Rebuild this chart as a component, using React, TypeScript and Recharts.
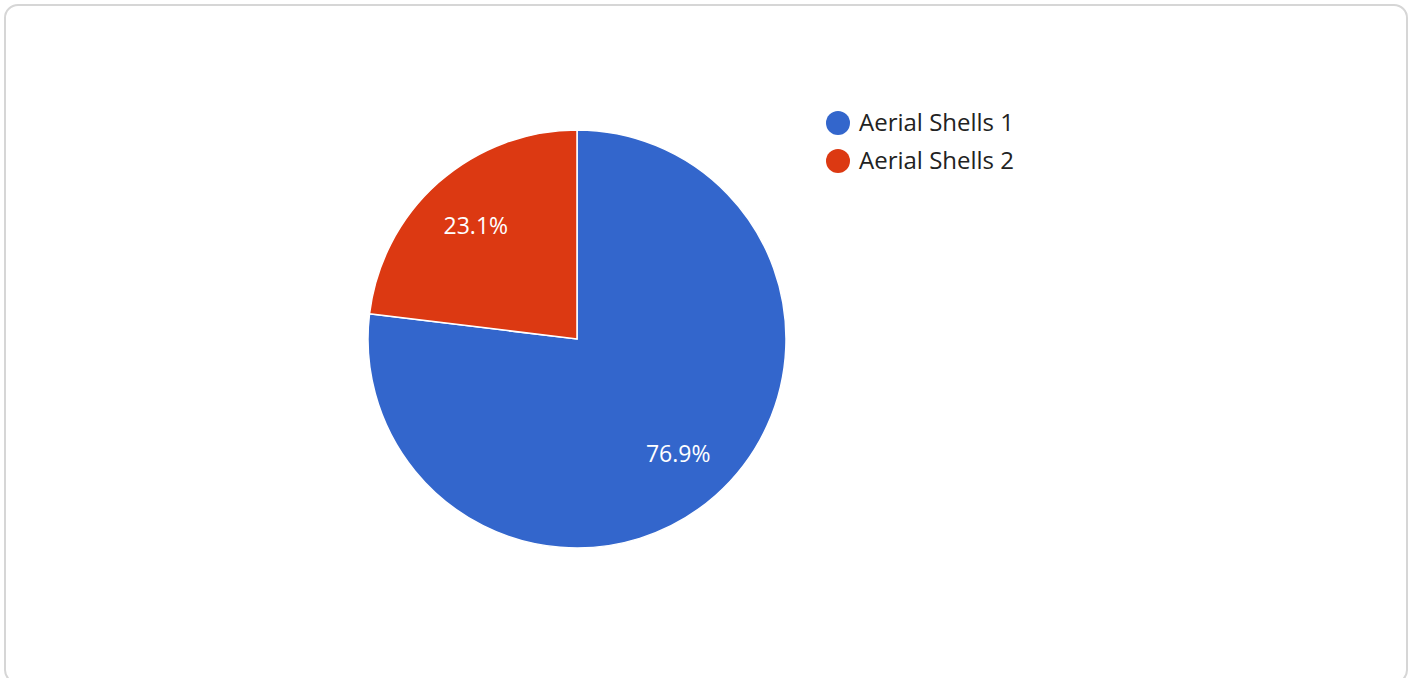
import { PieChart, Pie, Cell, Legend } from "recharts";

const categories = ["Aerial Shells 1", "Aerial Shells 2"];
const values = [10, 3];
const colors = ["#3366cc", "#dc3912"];

const data = categories.map((name, i) => ({ name, value: values[i] }));

const RADIAN = Math.PI / 180;

const renderLabel = (props: any) => {
  const { cx, cy, midAngle, outerRadius, percent } = props;
  const r = outerRadius * 0.73;
  const x = cx + r * Math.cos(-midAngle * RADIAN);
  const y = cy + r * Math.sin(-midAngle * RADIAN);
  return (
    <text
      x={x}
      y={y}
      fill="#ffffff"
      textAnchor="middle"
      dominantBaseline="central"
      fontSize={23}
      fontFamily="'Open Sans', sans-serif"
    >
      {`${(percent * 100).toFixed(1)}%`}
    </text>
  );
};

const renderLegend = (props: any) => {
  const { payload } = props;
  return (
    <div style={{ fontFamily: "'Open Sans', sans-serif" }}>
      {payload.map((entry: any) => (
        <div
          key={entry.value}
          style={{ display: "flex", alignItems: "center", height: 38 }}
        >
          <svg width={26} height={26} style={{ marginRight: 8 }}>
            <circle cx={13} cy={13} r={12} fill={entry.color} />
          </svg>
          <span style={{ fontSize: 24, color: "#222222", marginTop: -3 }}>{entry.value}</span>
        </div>
      ))}
    </div>
  );
};

export default function App() {
  return (
    <div style={{ position: "absolute", left: 0, top: 0, width: 1412, height: 678, background: "#fff", overflow: "hidden" }}>
      <div style={{ position: "absolute", left: 0, top: 0 }}>
        <PieChart width={1412} height={678} margin={{ top: 0, right: 0, bottom: 0, left: 0 }}>
          <Pie
            data={data}
            dataKey="value"
            nameKey="name"
            cx={577}
            cy={339}
            outerRadius={209}
            startAngle={90}
            endAngle={-270}
            stroke="#ffffff"
            strokeWidth={1.5}
            label={renderLabel}
            labelLine={false}
            isAnimationActive={false}
          >
            {data.map((d, i) => (
              <Cell key={d.name} fill={colors[i]} />
            ))}
          </Pie>
          <Legend
            layout="vertical"
            content={renderLegend}
            wrapperStyle={{ left: 825, top: 104, width: 300 }}
          />
        </PieChart>
      </div>
      <div
        style={{
          position: "absolute",
          left: 4,
          top: 4,
          width: 1404,
          height: 680,
          border: "2px solid #d6d6d6",
          borderRadius: 14,
          boxSizing: "border-box",
          pointerEvents: "none",
        }}
      />
    </div>
  );
}
